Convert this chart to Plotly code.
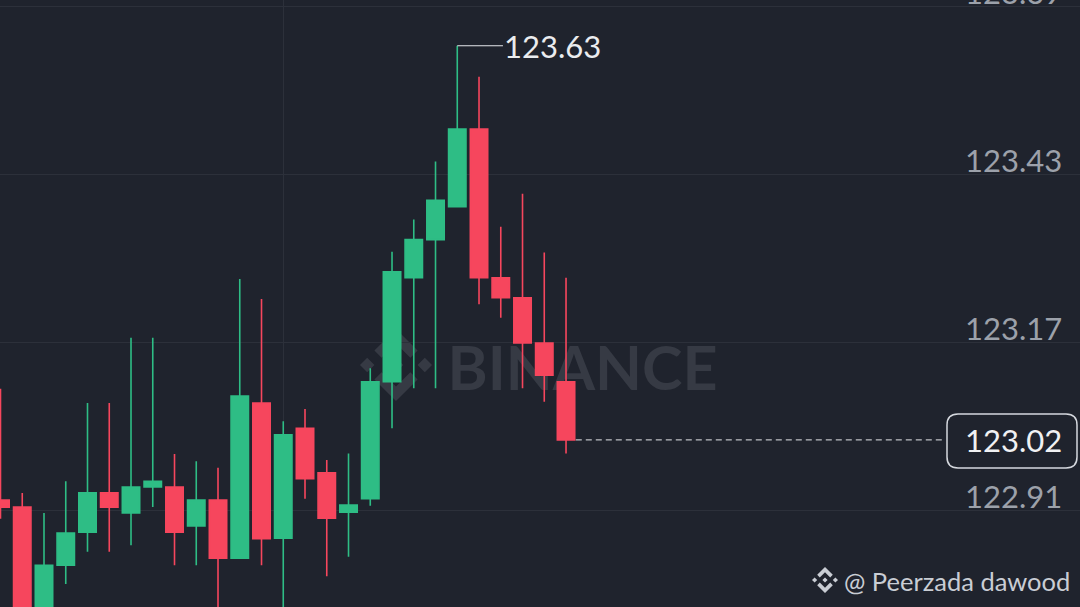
import plotly.graph_objects as go

W, H = 1080, 607

# candle data (index = bar number from the left edge)
candle_idx = list(range(27))
opens = [122.927, 122.916, 122.720, 122.826, 122.877, 122.938, 122.907, 122.947, 122.947,
         122.887, 122.927, 122.837, 123.077, 122.868, 123.038, 122.969, 122.908, 122.929,
         123.110, 123.271, 123.330, 123.381, 123.501, 123.271, 123.240, 123.170, 123.110]
highs = [123.099, 122.938, 122.907, 122.956, 123.077, 123.077, 123.178, 123.178, 122.998,
         122.987, 122.977, 123.269, 123.238, 123.049, 123.068, 122.989, 122.999, 123.131,
         123.311, 123.361, 123.451, 123.630, 123.582, 123.350, 123.401, 123.310, 123.271]
lows = [122.898, 122.680, 122.700, 122.797, 122.847, 122.847, 122.857, 122.916, 122.826,
        122.826, 122.741, 122.837, 122.826, 122.740, 122.929, 122.809, 122.839, 122.918,
        123.038, 123.100, 123.100, 123.381, 123.230, 123.209, 123.100, 123.079, 122.999]
closes = [122.916, 122.710, 122.826, 122.876, 122.938, 122.916, 122.947, 122.956, 122.877,
          122.927, 122.837, 123.088, 122.867, 123.028, 122.960, 122.899, 122.919, 123.110,
          123.280, 123.330, 123.391, 123.501, 123.271, 123.240, 123.170, 123.120, 123.020]

price_ticks = [122.91, 123.17, 123.43, 123.69]
time_grid = [13]

BG = "#1f232d"
GRID = "#2c303a"
UP = "#2ebd85"
DOWN = "#f6465d"
FONT = "Lato"


def px2paper(x, y):
    return f"{x / W:.5f},{1 - y / H:.5f}"


def logo_path(cx, cy, r):
    # rough binance diamond logo, built from pixel positions
    pieces = [
        [(0, 0.2), (0.2, 0), (0, -0.2), (-0.2, 0)],
        [(0.8, 0.2), (1.0, 0), (0.8, -0.2), (0.6, 0)],
        [(-0.8, 0.2), (-0.6, 0), (-0.8, -0.2), (-1.0, 0)],
        [(0, 1), (0.6, 0.4), (0.4, 0.2), (0, 0.6), (-0.4, 0.2), (-0.6, 0.4)],
        [(0, -1), (0.6, -0.4), (0.4, -0.2), (0, -0.6), (-0.4, -0.2), (-0.6, -0.4)],
    ]
    out = []
    for pts in pieces:
        s = ""
        for k, (u, v) in enumerate(pts):
            s += ("M" if k == 0 else "L") + px2paper(cx + u * r, cy - v * r)
        out.append(s + "Z")
    return " ".join(out)


def rounded_box(x0, y0, x1, y1, r):
    p = px2paper
    return (f"M{p(x0 + r, y0)} L{p(x1 - r, y0)} Q{p(x1, y0)} {p(x1, y0 + r)} "
            f"L{p(x1, y1 - r)} Q{p(x1, y1)} {p(x1 - r, y1)} L{p(x0 + r, y1)} "
            f"Q{p(x0, y1)} {p(x0, y1 - r)} L{p(x0, y0 + r)} Q{p(x0, y0)} {p(x0 + r, y0)} Z")


fig = go.Figure()

fig.add_trace(go.Candlestick(
    x=candle_idx,
    open=opens, high=highs, low=lows, close=closes,
    increasing=dict(line=dict(color=UP, width=1.6), fillcolor=UP),
    decreasing=dict(line=dict(color=DOWN, width=1.6), fillcolor=DOWN),
    whiskerwidth=0,
    showlegend=False,
    hoverinfo="skip",
))

shapes = []
annotations = []

# watermark
shapes.append(dict(type="path", xref="paper", yref="paper", path=logo_path(396, 365, 36),
                   fillcolor="#363a44", line=dict(width=0), layer="between"))
shapes.append(dict(type="rect", xref="paper", yref="paper",
                   x0=440 / W, x1=725 / W, y0=1 - 395 / H, y1=1 - 335 / H,
                   line=dict(width=0), fillcolor="rgba(0,0,0,0)", layer="between",
                   label=dict(text="BINANCE", textposition="middle center",
                              font=dict(family=FONT, size=61, color="#363a44", weight=700))))

# price axis labels, sitting just above their grid lines
for v in price_ticks:
    annotations.append(dict(xref="paper", yref="y", x=1064 / W, y=v, text=f"{v:.2f}",
                            xanchor="right", yanchor="middle", yshift=15, showarrow=False,
                            font=dict(family=FONT, size=31, color="#9ca1aa")))

# highest high marker
peak_i = highs.index(max(highs))
shapes.append(dict(type="line", xref="x", yref="y", x0=peak_i, x1=peak_i + 2.1,
                   y0=highs[peak_i], y1=highs[peak_i], line=dict(color="#e6e8ec", width=1)))
annotations.append(dict(xref="x", yref="y", x=peak_i + 2.05, y=highs[peak_i],
                        text=f"{highs[peak_i]:.2f}", xanchor="left", yanchor="middle",
                        showarrow=False, font=dict(family=FONT, size=31, color="#eaecef")))

# last price line and boxed label
last = closes[-1]
shapes.append(dict(type="line", xref="x", yref="y", x0=candle_idx[-1] + 0.45, x1=43.4,
                   y0=last, y1=last, line=dict(color="#e6e8ec", width=1, dash="6px,4px")))
shapes.append(dict(type="path", xref="paper", yref="paper",
                   path=rounded_box(947, 414, 1077, 468, 11),
                   line=dict(color="#d5d8de", width=1.5), fillcolor=BG))
annotations.append(dict(xref="paper", yref="y", x=1013 / W, y=last, text=f"{last:.2f}",
                        xanchor="center", yanchor="middle", showarrow=False,
                        font=dict(family=FONT, size=31, color="#f0f1f3")))

# author mark bottom right
shapes.append(dict(type="path", xref="paper", yref="paper", path=logo_path(825, 580, 13),
                   fillcolor="#c9cdd4", line=dict(width=0)))
annotations.append(dict(xref="paper", yref="paper", x=842 / W, y=1 - 581 / H,
                        text="@ Peerzada dawood", xanchor="left", yanchor="middle",
                        showarrow=False, font=dict(family=FONT, size=25.5, color="#c9cdd4")))

fig.update_layout(
    width=W, height=H, autosize=False,
    margin=dict(l=0, r=0, t=0, b=0, pad=0),
    paper_bgcolor=BG, plot_bgcolor=BG,
    boxgap=0.2, boxgroupgap=0,
    xaxis=dict(range=[-0.023, 49.63], tickvals=time_grid, showticklabels=False,
               showgrid=True, gridcolor=GRID, gridwidth=1, zeroline=False,
               showline=False, rangeslider=dict(visible=False), fixedrange=True),
    yaxis=dict(range=[122.7614, 123.7008], tickvals=price_ticks, showticklabels=False,
               showgrid=True, gridcolor=GRID, gridwidth=1, zeroline=False,
               showline=False, fixedrange=True),
    shapes=shapes,
    annotations=annotations,
    showlegend=False,
)

# drop the browser's default body margin so the chart fills the window
fig.write_html("out.html", config={"displayModeBar": False},
               post_script="document.body.style.margin='0';"
               "document.body.style.overflow='hidden';")
